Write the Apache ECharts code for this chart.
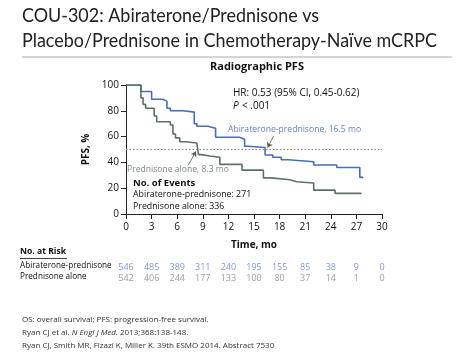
<!DOCTYPE html>
<html><head><meta charset="utf-8">
<script src="https://cdn.jsdelivr.net/npm/echarts@6/dist/echarts.min.js"></script>
<style>html,body{margin:0;padding:0;background:#fff}#c{width:474px;height:355px}</style>
</head><body><div id="c"></div>
<script>
// ---- data ----
var abiCurve = [[0,100],[1.75,95],[3.0,89],[4.3,87.5],[4.8,82],[5.2,80],[6.7,79],[8.0,70],[8.3,68],[9.6,66.5],[10.5,59.5],[13.3,58],[13.9,52.5],[14.3,51.5],[16.3,45.7],[17.2,44],[18.2,42],[19.0,40.5],[22,38],[24.7,36],[27.4,28.4],[27.8,28.4]];
var predCurve = [[0,100],[1.75,90],[2.0,85],[2.3,82],[3.3,76],[3.6,71.5],[5.2,69],[5.5,62],[5.8,59],[6.3,56],[7.0,55],[8.3,53.5],[8.5,46],[8.8,45],[9.8,44],[11,38.5],[13.6,34],[16.1,28],[17,26.5],[19.2,25],[20,24],[22,18.5],[24.5,16],[27.6,16]];
var riskTimes = [0,3,6,9,12,15,18,21,24,27,30];
var abiRisk = [546,485,389,311,240,195,155,85,38,9,0];
var predRisk = [542,406,244,177,133,100,80,37,14,1,0];
var rowNames = ['Abiraterone-prednisone','Prednisone alone'];
var abiMedian = 16.5, predMedian = 8.3;

var blue = '#4b6cb7', gray = '#5c7264', blueTxt = '#6482c4', grayTxt = '#7f8c84';
var F = 'Open Sans';
function riskData(vals,row){return riskTimes.map(function(t,i){return [t,row,vals[i]];});}

var chart = echarts.init(document.getElementById('c'));
chart.setOption({
  animation:false,
  textStyle:{fontFamily:F},
  grid:[{left:126,top:85,width:256,height:129},{left:126,top:262,width:256,height:22}],
  xAxis:[{type:'value',min:0,max:30,interval:3,gridIndex:0,
    axisLine:{lineStyle:{color:'#222',width:1}},axisTick:{length:5,lineStyle:{color:'#222'}},
    axisLabel:{color:'#111',fontSize:10,margin:8,fontFamily:F},splitLine:{show:false},
    name:'Time, mo',nameLocation:'middle',nameGap:26,nameTextStyle:{fontWeight:'bold',fontSize:10,color:'#111',fontFamily:F}},
    {type:'value',min:0,max:30,gridIndex:1,show:false}],
  yAxis:[{type:'value',min:0,max:100,interval:20,gridIndex:0,
    axisLine:{show:true,lineStyle:{color:'#222',width:1}},axisTick:{show:true,length:5,lineStyle:{color:'#222'}},
    axisLabel:{color:'#111',fontSize:10,margin:7,fontFamily:F},splitLine:{show:false},
    name:'PFS, %',nameLocation:'middle',nameGap:22,nameTextStyle:{fontWeight:'bold',fontSize:10,color:'#111',fontFamily:F}},
    {type:'category',data:rowNames,inverse:true,gridIndex:1,show:false}],
  series:[
    {type:'line',step:'end',data:abiCurve,symbol:'none',lineStyle:{color:blue,width:1.6},
     markLine:{silent:true,symbol:'none',label:{show:false},lineStyle:{color:'#888',type:[1.5,2],width:1},data:[{yAxis:50}]}},
    {type:'line',step:'end',data:predCurve,symbol:'none',lineStyle:{color:gray,width:1.6},
     markLine:{silent:true,symbol:['none','arrow'],symbolSize:5,label:{show:false},lineStyle:{color:'#555',type:'solid',width:0.8},
      data:[[{coord:[17.3,60.5]},{coord:[abiMedian+0.1,51.5]}],[{coord:[7.3,38]},{coord:[predMedian-0.1,48.5]}]]}},
    {type:'scatter',xAxisIndex:1,yAxisIndex:1,data:riskData(abiRisk,rowNames[0]),symbolSize:0,
     label:{show:true,position:'inside',formatter:function(p){return p.value[2];},color:blueTxt,fontSize:9,fontFamily:F}},
    {type:'scatter',xAxisIndex:1,yAxisIndex:1,data:riskData(predRisk,rowNames[1]),symbolSize:0,
     label:{show:true,position:'inside',formatter:function(p){return p.value[2];},color:grayTxt,fontSize:9,fontFamily:F}}
  ],
  graphic:[
    {type:'text',x:22,y:6,scaleX:0.92,style:{text:'COU-302: Abiraterone/Prednisone vs',font:'19.5px Lato',fill:'#222'}},
    {type:'text',x:22,y:31,scaleX:0.92,style:{text:'Placebo/Prednisone in Chemotherapy-Na\u00efve mCRPC',font:'19.5px Lato',fill:'#222'}},
    {type:'line',shape:{x1:22,y1:57,x2:452,y2:57},style:{stroke:'#aaa',lineWidth:1}},
    {type:'text',left:210,top:61,style:{text:'Radiographic PFS',font:'bold 11px "Open Sans"',fill:'#111'}},
    {type:'text',left:233,top:88,style:{text:'HR: 0.53 (95% CI, 0.45-0.62)',font:'10px "Open Sans"',fill:'#111'}},
    {type:'text',left:233,top:100,style:{rich:{i:{fontStyle:'italic',fontSize:10,fontFamily:F,fill:'#111'},n:{fontSize:10,fontFamily:F,fill:'#111'}},text:'{i|P} {n|< .001}'}},
    {type:'text',left:228,top:125,style:{text:'Abiraterone-prednisone, 16.5 mo',font:'8.6px "Open Sans"',fill:blueTxt}},
    {type:'text',left:127,top:165,style:{text:'Prednisone alone, 8.3 mo',font:'8.6px "Open Sans"',fill:grayTxt}},
    {type:'text',left:133,top:178,style:{text:'No. of Events',font:'bold 9.5px "Open Sans"',fill:'#111'}},
    {type:'text',left:133,top:190,style:{text:'Abiraterone-prednisone: 271',font:'8.8px "Open Sans"',fill:'#111'}},
    {type:'text',left:133,top:202,style:{text:'Prednisone alone: 336',font:'8.8px "Open Sans"',fill:'#111'}},
    {type:'text',left:20,top:247,style:{text:'No. at Risk',font:'bold 8.6px "Open Sans"',fill:'#111'}},
    {type:'line',shape:{x1:20,y1:258.5,x2:67,y2:258.5},style:{stroke:'#111',lineWidth:0.8}},
    {type:'text',left:20,top:262,style:{text:rowNames[0],font:'8.2px "Open Sans"',fill:'#111'}},
    {type:'text',left:20,top:273,style:{text:rowNames[1],font:'8.2px "Open Sans"',fill:'#111'}},
    {type:'text',left:22,top:316,style:{text:'OS: overall survival; PFS: progression-free survival.',font:'8px "Open Sans"',fill:'#333'}},
    {type:'text',left:22,top:329,style:{rich:{n:{fontSize:8,fontFamily:F,fill:'#333'},i:{fontSize:8,fontFamily:F,fontStyle:'italic',fill:'#333'}},text:'{n|Ryan CJ et al. }{i|N Engl J Med.}{n| 2013;368:138-148.}'}},
    {type:'text',left:22,top:342,style:{text:'Ryan CJ, Smith MR, Fizazi K, Miller K. 39th ESMO 2014. Abstract 7530',font:'8px "Open Sans"',fill:'#333'}}
  ]
});
</script></body></html>
